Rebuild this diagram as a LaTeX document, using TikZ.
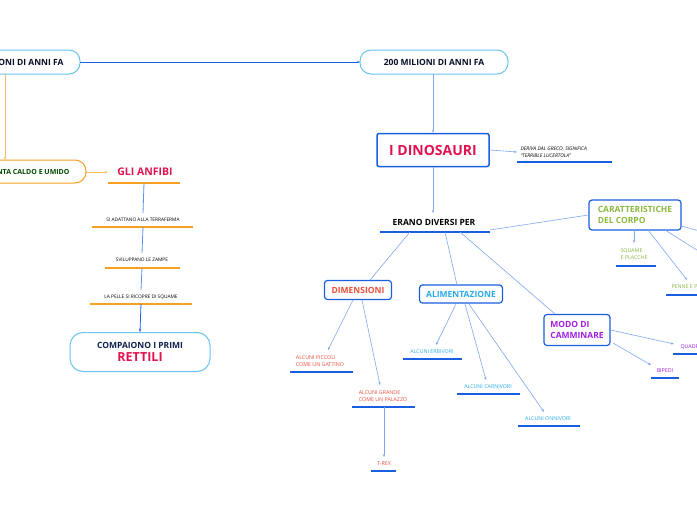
\documentclass[tikz,border=0pt]{standalone}
\usepackage{fontspec}
\setmainfont{Open Sans}
\usetikzlibrary{arrows.meta}
\definecolor{bl}{HTML}{1A5FE0}
\definecolor{lbl}{HTML}{7FA8F0}
\definecolor{crim}{HTML}{E0124F}
\definecolor{org}{HTML}{F5A020}
\definecolor{grn}{HTML}{8CB840}
\definecolor{red1}{HTML}{E8503A}
\definecolor{cya}{HTML}{2AAAE8}
\definecolor{pur}{HTML}{A020E0}
\definecolor{navy}{HTML}{102050}
\begin{document}
\begin{tikzpicture}[x=1pt,y=-1pt,
 topbox/.style={draw=cya!70,line width=1pt,rounded corners=11pt,fill=white},
 subbox/.style={draw=bl,line width=1.2pt,rounded corners=3pt,font=\bfseries\fontsize{8.5}{11}\selectfont,align=left,inner sep=3pt},
 leaf/.style={font=\fontsize{5.3}{7.5}\selectfont,align=left},
 ul/.style={draw=bl,line width=1.2pt},
 oul/.style={draw=org,line width=1.2pt},
 con/.style={draw=lbl,line width=0.6pt},
 arr/.style={-{Stealth[length=3pt]}}]
\useasboundingbox (0,0) rectangle (697,520);
\fill[white] (0,0) rectangle (697,520);
% top boxes
\draw[topbox] (-70,50) rectangle (80,74);
\node[anchor=east,font=\bfseries\fontsize{8.5}{10}\selectfont,text=navy!50!black] (t1) at (67,62) {MILIONI DI ANNI FA};
\draw[topbox] (360,50) rectangle (508,74);
\node[font=\bfseries\fontsize{8.5}{10}\selectfont,text=navy!50!black] (t2) at (434,62) {200 MILIONI DI ANNI FA};
\coordinate (t1r) at (80,62); \coordinate (t2l) at (360,62);
\draw[bl,line width=0.8pt,arr] (t1r) -- (t2l);
% dinosauri
\node[draw=bl,line width=1.5pt,rounded corners=2pt,minimum width=112pt,minimum height=33pt,text=crim,font=\bfseries\fontsize{14}{16}\selectfont] (din) at (433,150) {I DINOSAURI};
\coordinate (t2b) at (433,74);
\draw[con,arr] (t2b) -- (din.north);
\node[leaf,font=\itshape\fontsize{5}{6.5}\selectfont,anchor=west] (der) at (517,152) {DERIVA DAL GRECO, SIGNIFICA\\``TERRIBLE LUCERTOLA''};
\draw[ul] (517,162) -- (612,162);
\draw[con,arr] (din.east) -- (der.west);
\node[font=\bfseries\fontsize{8.5}{10}\selectfont] (era) at (434,222) {ERANO DIVERSI PER};
\draw[ul] (380,232) -- (490,232);
\draw[con,arr] (din.south) -- (433,213);
\coordinate (eraR) at (490,230); \coordinate (eraL) at (410,232); \coordinate (eraM) at (445,232); \coordinate (eraM2) at (460,232);
% sub boxes
\node[subbox,text=grn,minimum width=92pt,minimum height=30pt] (car) at (635,215) {CARATTERISTICHE\\DEL CORPO};
\node[subbox,text=red1,minimum width=67pt,minimum height=19pt] (dim) at (358,290) {DIMENSIONI};
\node[subbox,text=cya,minimum width=83pt,minimum height=18pt] (ali) at (461,294) {ALIMENTAZIONE};
\node[subbox,text=pur,minimum width=66pt,minimum height=31pt] (mod) at (577,330) {MODO DI\\CAMMINARE};
\draw[con] (eraR) -- (car.west);
\draw[con] (eraL) -- (370,280);
\draw[con] (eraM) -- (457,285);
\draw[con] (eraM2) -- (555,314);
% caratteristiche leaves
\node[leaf,text=grn] (sq) at (634,254) {SQUAME\\E PLACCHE};
\draw[ul] (616,266) -- (656,266);
\draw[con,arr] (634,230) -- (634,243);
\node[leaf,text=grn,anchor=west] (pen) at (668,287) {PENNE E PELI};
\draw[ul] (666,295) -- (697,295);
\draw[con,arr] (648,230) -- (687,280);
\draw[con] (665,230) -- (700,252);
\draw[con] (681,226) -- (700,231);
% modo leaves
\node[leaf,text=pur,anchor=west] (qua) at (677,347) {QUADRUPEDI};
\draw[ul] (673,354) -- (697,354);
\draw[con,arr] (mod.east) -- (674,344);
\node[leaf,text=pur] (bip) at (665,371) {BIPEDI};
\draw[ul] (651,378) -- (679,378);
\draw[con,arr] (613,343) -- (651,365);
% dimensioni leaves
\node[leaf,text=red1] (pic) at (320,361) {ALCUNI PICCOLI\\COME UN GATTINO};
\draw[ul] (290,372) -- (353,372);
\draw[con,arr] (353,300) -- (328,350);
\node[leaf,text=red1] (gra) at (383,396) {ALCUNI GRANDE\\COME UN PALAZZO};
\draw[ul] (352,407) -- (415,407);
\draw[con,arr] (362,300) -- (380,385);
\node[leaf,text=red1] (trex) at (384,464) {T-REX};
\draw[ul] (371,471) -- (396,471);
\draw[con,arr] (384,407) -- (384,457);
% alimentazione leaves
\node[leaf,text=cya] (erb) at (432,352) {ALCUNI ERBIVORI};
\draw[ul] (403,359) -- (462,359);
\draw[con,arr] (456,304) -- (436,345);
\node[leaf,text=cya] (carn) at (488,387) {ALCUNI CARNIVORI};
\draw[ul] (457,394) -- (520,394);
\draw[con,arr] (465,304) -- (486,380);
\node[leaf,text=cya] (onn) at (548,419) {ALCUNI ONNIVORI};
\draw[ul] (518,426) -- (580,426);
\draw[con,arr] (469,304) -- (544,412);
% left branch
\draw[draw=org,line width=1pt,rounded corners=11pt,fill=white] (-70,160) rectangle (86,183);
\node[anchor=east,font=\bfseries\fontsize{7}{8}\selectfont,text=green!30!black] (cal) at (73,172) {LA TERRA DIVENTA CALDO E UMIDO};
\draw[org!70,line width=0.6pt,arr] (5,74) -- (5,160);
\node[text=crim,font=\bfseries\fontsize{10.5}{12}\selectfont] (anf) at (145,172) {GLI ANFIBI};
\draw[oul] (108,183) -- (180,183);
\draw[org!70,line width=0.6pt,arr] (86,172) -- (108,172);
\node[leaf,font=\fontsize{4.8}{6}\selectfont] (s1) at (143,220) {SI ADATTANO ALLA TERRAFERMA};
\draw[oul] (92,227) -- (193,227);
\node[leaf,font=\fontsize{4.8}{6}\selectfont] (s2) at (142,260) {SVILUPPANO LE ZAMPE};
\draw[oul] (105,268) -- (180,268);
\node[leaf,font=\fontsize{4.8}{6}\selectfont] (s3) at (141,297) {LA PELLE SI RICOPRE DI SQUAME};
\draw[oul] (90,304) -- (192,304);
\draw[bl!70,line width=0.8pt] (144,183) -- (143,213);
\draw[bl!70,line width=0.8pt] (143,227) -- (142,253);
\draw[bl!70,line width=0.8pt] (142,268) -- (141,290);
\node[draw=cya!70,line width=1pt,rounded corners=13pt,minimum width=140pt,minimum height=39pt,align=center,fill=white] (ret) at (140,352) {\bfseries\fontsize{8.5}{10}\selectfont\color{navy}COMPAIONO I PRIMI\\[1pt]\bfseries\fontsize{12.5}{14}\selectfont\color{crim}RETTILI};
\draw[bl,line width=0.8pt,arr] (141,304) -- (ret.north);
\end{tikzpicture}
\end{document}
